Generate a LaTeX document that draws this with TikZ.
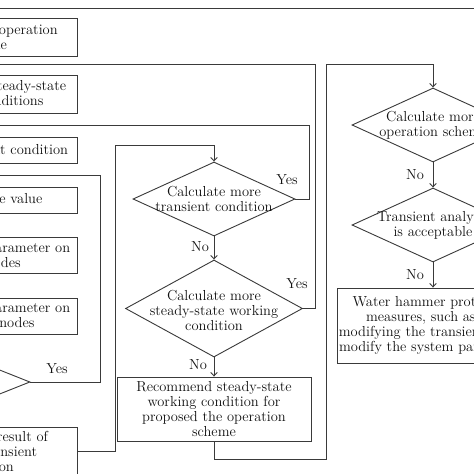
\documentclass[tikz,border=0pt]{standalone}
\usetikzlibrary{shapes.geometric,arrows.meta}
\definecolor{lc}{HTML}{3A3A3A}
\definecolor{tc}{HTML}{111111}
\newcommand\dfont{\fontsize{14.5}{15}\selectfont}
\begin{document}
\begin{tikzpicture}[x=1pt,y=-1pt,
  ln/.style={draw=lc,line width=0.9pt},
  ar/.style={ln,-{Straight Barb[length=3.5pt,width=6.5pt]}},
  box/.style={draw=lc,line width=0.9pt,align=center,inner sep=0pt,font=\dfont,text=tc},
  lbox/.style={box,minimum width=184pt},
  dec/.style={diamond,draw=lc,line width=0.9pt,inner sep=0pt},
  dtext/.style={align=center,font=\dfont,text=tc,inner sep=0pt},
  yn/.style={font=\dfont,text=tc,inner sep=0pt}]
\useasboundingbox (0,0) rectangle (474,474);
\clip (0,0) rectangle (474,474);
\fill[white] (0,0) rectangle (474,474);

% left column
\node[lbox,minimum height=38pt] (b1) at (-15,37) {Proposed the operation\\scheme};
\node[lbox,minimum height=38pt] (b2) at (-15,94) {Calculate the steady-state\\working conditions};
\node[lbox,minimum height=26pt] (b3) at (-15,150) {Set the transient condition};
\node[lbox,minimum height=26pt] (b4) at (-15,200) {Update time value};
\node[lbox,minimum height=36pt] (b5) at (-15,255) {Calculate the parameter on\\inner nodes};
\node[lbox,minimum height=36pt] (b6) at (-15,316) {Calculate the parameter on\\boundary nodes};
\node[dec,minimum width=90pt,minimum height=36pt] (d0) at (-15,382) {};
\node[lbox,minimum height=48pt] (b7) at (-15,451) {Output the result of\\current transient\\condition};

% middle column
\node[dec,minimum width=162pt,minimum height=74pt] (d1) at (214,199) {};
\node[dtext] (d1t) at (d1) {Calculate more\\transient condition};
\node[dec,minimum width=177pt,minimum height=97pt] (d2) at (214,308.5) {};
\node[dtext] (d2t) at (214,310) {Calculate more\\steady-state working\\condition};
\node[box,minimum width=194pt,minimum height=64pt] (bR) at (214,409) {Recommend steady-state\\working condition for\\proposed the operation\\scheme};

% right column
\node[dec,minimum width=162pt,minimum height=74pt] (d3) at (433,125) {};
\node[dtext] (d3t) at (d3) {Calculate more\\operation scheme};
\node[dec,minimum width=162pt,minimum height=74pt] (d4) at (433,225) {};
\node[dtext] (d4t) at (d4) {Transient analysis\\is acceptable};
\node[box,minimum width=192pt,minimum height=75pt] (bW) at (433,325.5) {Water hammer protection\\measures, such as the\\modifying the transient mode,\\modify the system parameters};

% labels
\node[yn] (y1) at (287,180) {Yes};
\node[yn] (n1) at (200,247) {No};
\node[yn] (y2) at (297,284) {Yes};
\node[yn] (n2) at (198,365) {No};
\node[yn] (y0) at (57,369) {Yes};
\node[yn] (n3) at (415,175) {No};
\node[yn] (n4) at (415,275) {No};

% coordinates
\coordinate (j0) at (-15,64);
\coordinate (j1) at (-15,125);
\coordinate (j2) at (-15,175);
\coordinate (r1) at (309,125);
\coordinate (r2) at (315,64);
\coordinate (r0) at (100,175);
\coordinate (l1) at (115,145);
\coordinate (m1) at (326,459);
\coordinate (m2) at (326,64);
\coordinate (t1) at (540,8);

% left flow
\draw[ar] (b1) -- (b2);
\draw[ar] (b2) -- (b3);
\draw[ar] (b3) -- (b4);
\draw[ar] (b4) -- (b5);
\draw[ar] (b5) -- (b6);
\draw[ar] (b6) -- (d0);
\draw[ar] (d0) -- (b7);

% middle flow
\draw[ar] (d1.south) -- (d2.north);
\draw[ar] (d2.south) -- (bR.north);
\draw[ar] (d3.south) -- (d4.north);
\draw[ar] (d4.south) -- (bW.north);

% loops
\draw[ln] (d1.east) -| (r1) -- (j1);
\draw[ln] (d2.east) -| (r2) -- (j0);
\draw[ln] (d0.east) -| (r0) -- (j2);
\draw[ar] (b7.east) -| (l1) -| (d1.north);
\draw[ar] (bR.south) |- (m1) -- (m2) -| (d3.north);
\draw[ar] (d3.east) -| (t1) -| (b1.north);
\end{tikzpicture}
\end{document}
